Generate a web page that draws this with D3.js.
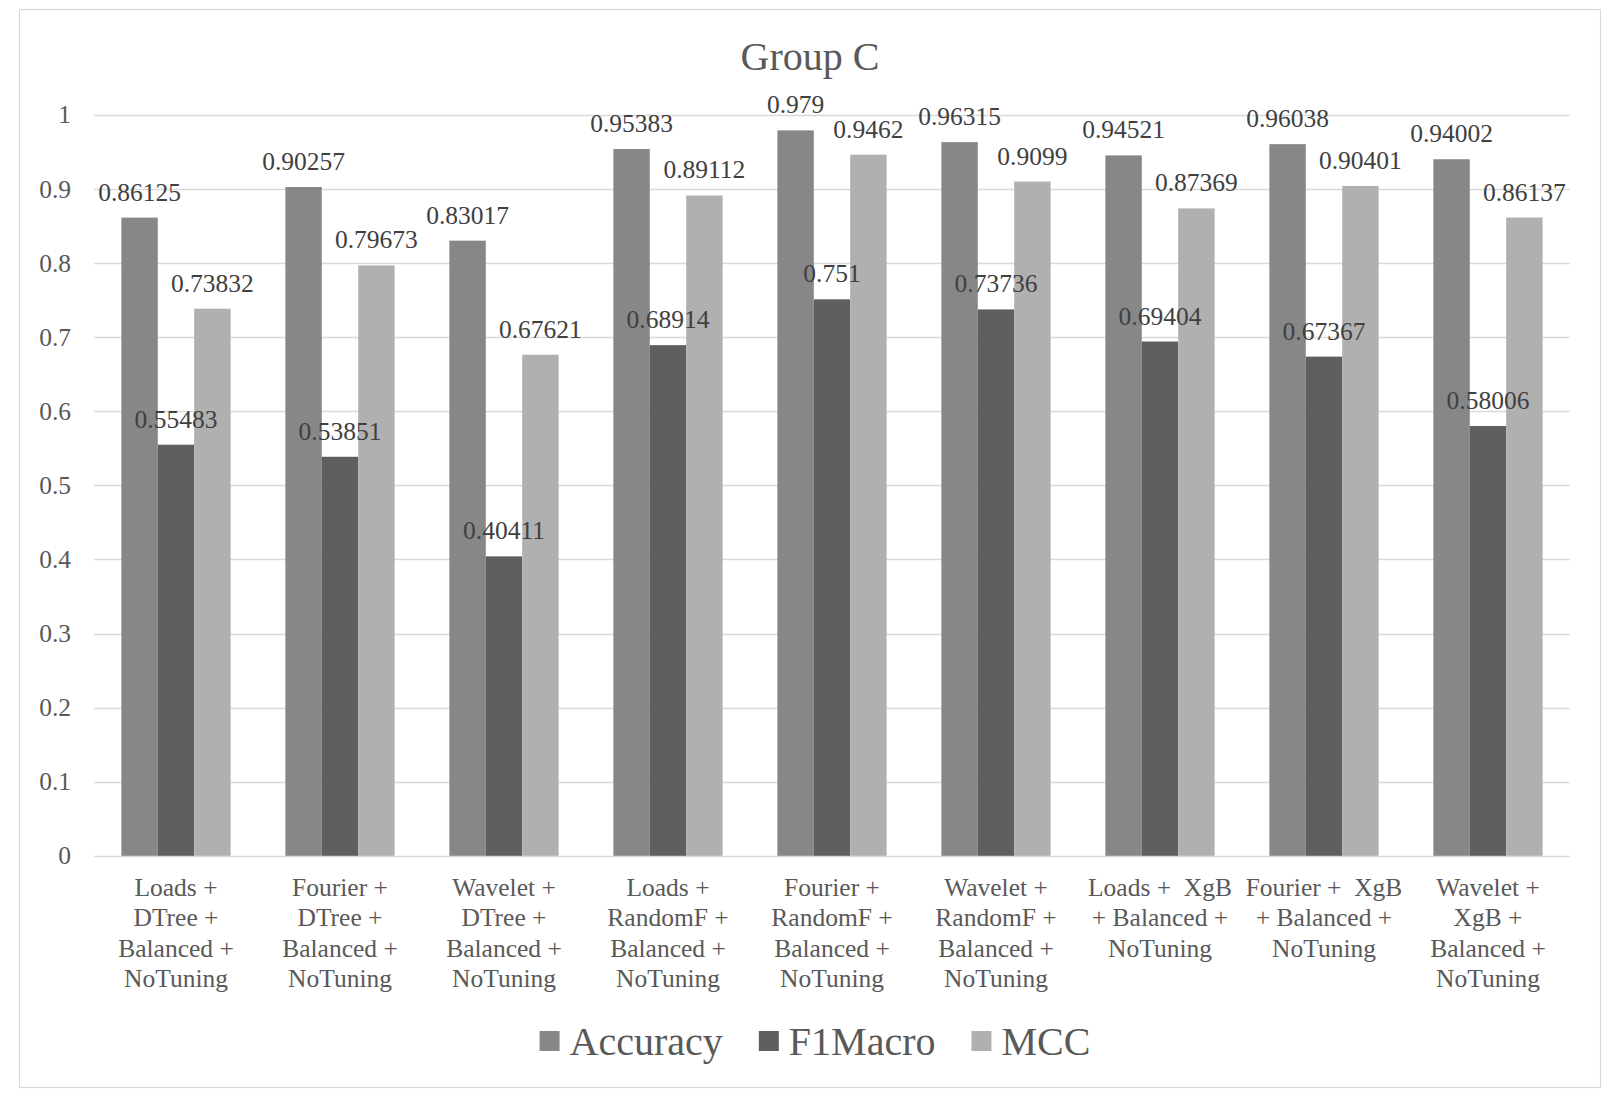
<!DOCTYPE html>
<html>
<head>
<meta charset="utf-8">
<script src="https://cdn.jsdelivr.net/npm/d3@7"></script>
<style>
  html, body { margin: 0; padding: 0; background: #fff; }
  svg { display: block; }
  text { font-family: "Liberation Serif", "Times New Roman", serif; }
</style>
</head>
<body>
<svg id="chart" width="1607" height="1094"></svg>
<script>
const title = "Group C";
const categories = [
  ["Loads +", "DTree +", "Balanced +", "NoTuning"],
  ["Fourier +", "DTree +", "Balanced +", "NoTuning"],
  ["Wavelet +", "DTree +", "Balanced +", "NoTuning"],
  ["Loads +", "RandomF +", "Balanced +", "NoTuning"],
  ["Fourier +", "RandomF +", "Balanced +", "NoTuning"],
  ["Wavelet +", "RandomF +", "Balanced +", "NoTuning"],
  ["Loads +  XgB", "+ Balanced +", "NoTuning"],
  ["Fourier +  XgB", "+ Balanced +", "NoTuning"],
  ["Wavelet +", "XgB +", "Balanced +", "NoTuning"]
];
const seriesNames = ["Accuracy", "F1Macro", "MCC"];
const accuracy = [0.86125, 0.90257, 0.83017, 0.95383, 0.979, 0.96315, 0.94521, 0.96038, 0.94002];
const f1macro  = [0.55483, 0.53851, 0.40411, 0.68914, 0.751, 0.73736, 0.69404, 0.67367, 0.58006];
const mcc      = [0.73832, 0.79673, 0.67621, 0.89112, 0.9462, 0.9099, 0.87369, 0.90401, 0.86137];
const labelTexts = {
  Accuracy: ["0.86125","0.90257","0.83017","0.95383","0.979","0.96315","0.94521","0.96038","0.94002"],
  F1Macro:  ["0.55483","0.53851","0.40411","0.68914","0.751","0.73736","0.69404","0.67367","0.58006"],
  MCC:      ["0.73832","0.79673","0.67621","0.89112","0.9462","0.9099","0.87369","0.90401","0.86137"]
};
const yTicks = [0, 0.1, 0.2, 0.3, 0.4, 0.5, 0.6, 0.7, 0.8, 0.9, 1];
const yTickLabels = ["0","0.1","0.2","0.3","0.4","0.5","0.6","0.7","0.8","0.9","1"];
const colors = ["#878787", "#5f5f5f", "#b0b0b0"];

const seriesValues = [accuracy, f1macro, mcc];

const svg = d3.select("#chart");
const W = 1607, H = 1094;
svg.append("rect").attr("width", W).attr("height", H).attr("fill", "#fff");
svg.append("rect").attr("x", 19.5).attr("y", 9.5).attr("width", 1581).attr("height", 1078)
  .attr("fill", "none").attr("stroke", "#d9d9d9").attr("stroke-width", 1.2);

const plot = { left: 94, right: 1570, top: 114.8, bottom: 855.8 };

const x0 = d3.scaleBand().domain(d3.range(categories.length))
  .range([plot.left, plot.right]).paddingInner(0.334).paddingOuter(0.167);
const x1 = d3.scaleBand().domain(d3.range(seriesNames.length)).range([0, x0.bandwidth()]);
const y = d3.scaleLinear().domain([0, 1]).range([plot.bottom, plot.top]);

// gridlines
svg.append("g").selectAll("line").data(yTicks).join("line")
  .attr("x1", plot.left).attr("x2", plot.right)
  .attr("y1", d => Math.round(y(d)) + 0.5).attr("y2", d => Math.round(y(d)) + 0.5)
  .attr("stroke", "#d9d9d9").attr("stroke-width", 1.5);

// y axis labels
const yAxis = d3.axisLeft(y).tickValues(yTicks).tickFormat((d, i) => yTickLabels[i]).tickSize(0).tickPadding(0);
const yg = svg.append("g").attr("transform", `translate(71,0)`).call(yAxis);
yg.select(".domain").remove();
yg.selectAll("text").attr("font-family", "Liberation Serif").attr("font-size", 25.5)
  .attr("fill", "#595959").attr("dy", "0.32em");

// bars
const groups = svg.append("g").selectAll("g").data(categories).join("g")
  .attr("transform", (d, i) => `translate(${x0(i)},0)`);
groups.selectAll("rect").data((d, i) => seriesValues.map((s, j) => ({ v: s[i], j }))).join("rect")
  .attr("x", d => x1(d.j)).attr("width", x1.bandwidth())
  .attr("y", d => y(d.v)).attr("height", d => y(0) - y(d.v))
  .attr("fill", d => colors[d.j]);

// data labels
groups.selectAll("text.lbl").data((d, i) => seriesNames.map((n, j) => ({ v: seriesValues[j][i], t: labelTexts[n][i], j }))).join("text")
  .attr("class", "lbl")
  .attr("x", d => x1(d.j) + x1.bandwidth() / 2)
  .attr("y", d => y(d.v) - 17)
  .attr("text-anchor", "middle")
  .attr("font-size", 25.5).attr("fill", "#404040")
  .text(d => d.t);

// x axis category labels
const xAxis = d3.axisBottom(x0).tickSize(0).tickFormat(() => "");
const xg = svg.append("g").attr("transform", `translate(0,${plot.bottom})`).call(xAxis);
xg.select(".domain").remove();
const catG = svg.append("g");
categories.forEach((lines, i) => {
  const cx = x0(i) + x0.bandwidth() / 2;
  const t = catG.append("text").attr("text-anchor", "middle")
    .attr("font-size", 25.5).attr("fill", "#595959");
  lines.forEach((ln, k) => {
    t.append("tspan").attr("x", cx).attr("y", 896 + k * 30.3)
      .attr("xml:space", "preserve").style("white-space", "pre").text(ln);
  });
});

// title
svg.append("text").attr("x", 810).attr("y", 70).attr("text-anchor", "middle")
  .attr("font-size", 40).attr("fill", "#595959").text(title);

// legend
const leg = svg.append("g");
const items = [];
let cursor = 0;
seriesNames.forEach((n, j) => {
  const g = leg.append("g");
  g.append("rect").attr("x", 0).attr("y", -24).attr("width", 20).attr("height", 20).attr("fill", colors[j]);
  const tx = g.append("text").attr("x", 30).attr("y", 0).attr("font-size", 40).attr("fill", "#595959").text(n);
  const w = 30 + tx.node().getComputedTextLength();
  items.push({ g, w });
});
const gap = 36;
const total = d3.sum(items, d => d.w) + gap * (items.length - 1);
let lx = 815 - total / 2;
items.forEach(it => {
  it.g.attr("transform", `translate(${lx},1055)`);
  lx += it.w + gap;
});
</script>
</body>
</html>
